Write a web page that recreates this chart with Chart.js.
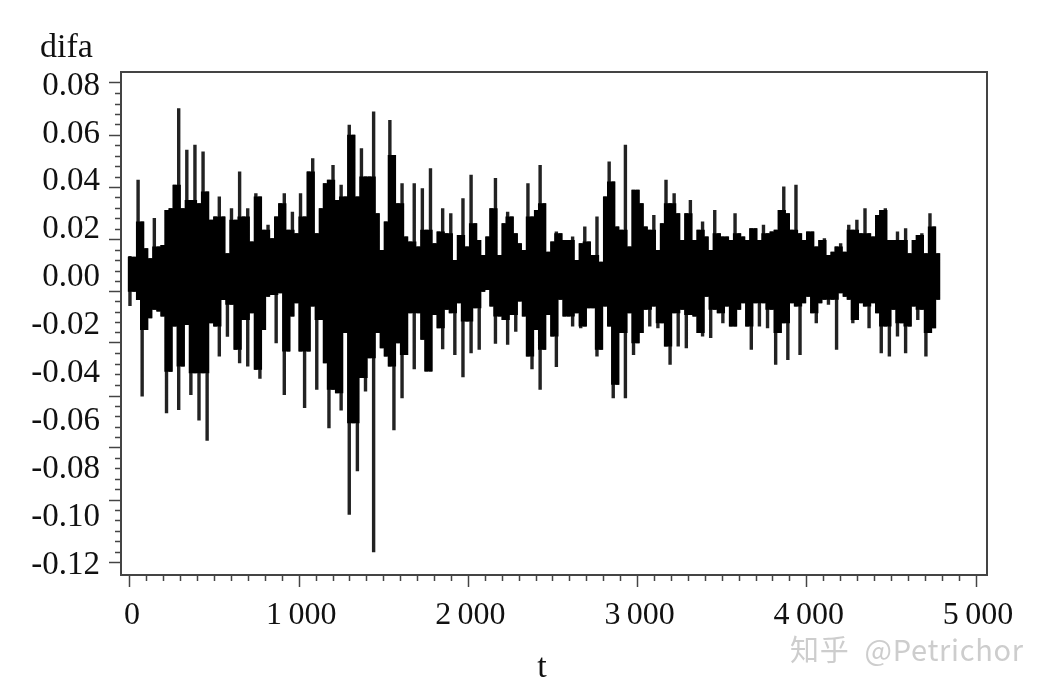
<!DOCTYPE html>
<html lang="zh">
<head>
    <meta charset="UTF-8">
    <title>difa</title>
    <script src="https://cdn.jsdelivr.net/npm/chart.js"></script>
    <style>
        body { margin: 0; background: #fff; }
        #wrap { position: relative; width: 1050px; height: 692px; overflow: hidden; }
        #mark {
            position: absolute; left: 790px; top: 627px;
            font: 29px "Noto Sans CJK SC", "Noto Sans", sans-serif;
            letter-spacing: 0.7px; word-spacing: 8px; color: #cdcdcd; white-space: nowrap;
        }
    </style>
</head>
<body>
<div id="wrap">
    <canvas id="difaChart" width="1050" height="692"></canvas>
    <div id="mark">知乎 @Petrichor</div>
</div>
<script>
    // one spike column every 24 t, upper and lower ends
    const tValues = [
        0, 24, 48, 72, 96, 120, 144, 168, 192, 216, 240, 264, 288, 312, 336, 360, 384, 408, 432, 456,
        480, 504, 528, 552, 576, 600, 624, 648, 672, 696, 720, 744, 768, 792, 816, 840, 864, 888, 912, 936,
        960, 984, 1008, 1032, 1056, 1080, 1104, 1128, 1152, 1176, 1200, 1224, 1248, 1272, 1296, 1320, 1344, 1368, 1392, 1416,
        1440, 1464, 1488, 1512, 1536, 1560, 1584, 1608, 1632, 1656, 1680, 1704, 1728, 1752, 1776, 1800, 1824, 1848, 1872, 1896,
        1920, 1944, 1968, 1992, 2016, 2040, 2064, 2088, 2112, 2136, 2160, 2184, 2208, 2232, 2256, 2280, 2304, 2328, 2352, 2376,
        2400, 2424, 2448, 2472, 2496, 2520, 2544, 2568, 2592, 2616, 2640, 2664, 2688, 2712, 2736, 2760, 2784, 2808, 2832, 2856,
        2880, 2904, 2928, 2952, 2976, 3000, 3024, 3048, 3072, 3096, 3120, 3144, 3168, 3192, 3216, 3240, 3264, 3288, 3312, 3336,
        3360, 3384, 3408, 3432, 3456, 3480, 3504, 3528, 3552, 3576, 3600, 3624, 3648, 3672, 3696, 3720, 3744, 3768, 3792, 3816,
        3840, 3864, 3888, 3912, 3936, 3960, 3984, 4008, 4032, 4056, 4080, 4104, 4128, 4152, 4176, 4200, 4224, 4248, 4272, 4296,
        4320, 4344, 4368, 4392, 4416, 4440, 4464, 4488, 4512, 4536, 4560, 4584, 4608, 4632, 4656, 4680, 4704, 4728, 4752, 4776
    ];
    const difaHigh = [
        .0082, .0079, .0400, .0226, .0114, .0072, .0240, .0121, .0128, .0274, .0281, .0379, .0699, .0281, .0525, .0316, .0546, .0302, .0518, .0351,
        .0233, .0247, .0330, .0247, .0093, .0281, .0233, .0435, .0247, .0281, .0142, .0344, .0330, .0191, .0212, .0156, .0247, .0302, .0344, .0191,
        .0267, .0177, .0344, .0247, .0435, .0490, .0177, .0281, .0386, .0400, .0462, .0316, .0379, .0330, .0630, .0588, .0330, .0532, .0414, .0414,
        .0685, .0260, .0107, .0226, .0650, .0504, .0302, .0386, .0163, .0142, .0386, .0121, .0365, .0191, .0448, .0135, .0184, .0281, .0177, .0260,
        .0065, .0170, .0323, .0121, .0421, .0219, .0149, .0086, .0163, .0281, .0407, .0086, .0219, .0267, .0247, .0177, .0135, .0107, .0386, .0247,
        .0274, .0462, .0302, .0100, .0142, .0184, .0177, .0149, .0149, .0163, .0065, .0135, .0205, .0142, .0086, .0247, .0058, .0330, .0476, .0393,
        .0205, .0191, .0546, .0121, .0358, .0358, .0302, .0205, .0191, .0253, .0107, .0219, .0400, .0302, .0344, .0260, .0149, .0260, .0316, .0149,
        .0191, .0226, .0163, .0107, .0274, .0177, .0163, .0163, .0149, .0260, .0177, .0163, .0149, .0198, .0198, .0149, .0212, .0177, .0184, .0191,
        .0274, .0372, .0260, .0191, .0379, .0177, .0149, .0184, .0184, .0121, .0149, .0156, .0086, .0100, .0121, .0135, .0100, .0212, .0191, .0233,
        .0177, .0281, .0177, .0163, .0253, .0274, .0281, .0149, .0149, .0184, .0149, .0198, .0093, .0149, .0170, .0177, .0093, .0260, .0205, .0093
    ];
    const difaLow = [
        -.0127, -.0067, -.0102, -.0505, -.0227, -.0178, -.0143, -.0150, -.0171, -.0575, -.0401, -.0213, -.0561, -.0380, -.0206, -.0498, -.0408, -.0605, -.0408, -.0689,
        -.0199, -.0213, -.0338, -.0102, -.0255, -.0122, -.0310, -.0366, -.0185, -.0380, -.0157, -.0393, -.0431, -.0227, -.0088, -.0081, -.0282, -.0074, -.0498, -.0317,
        -.0171, -.0115, -.0317, -.0553, -.0317, -.0129, -.0477, -.0185, -.0366, -.0637, -.0477, -.0491, -.0563, -.0240, -.0998, -.0616, -.0817, -.0428, -.0484, -.0345,
        -.1155, -.0240, -.0303, -.0338, -.0380, -.0646, -.0282, -.0512, -.0331, -.0157, -.0391, -.0157, -.0268, -.0400, -.0400, -.0164, -.0220, -.0307, -.0143, -.0157,
        -.0331, -.0115, -.0424, -.0192, -.0324, -.0136, -.0310, -.0067, -.0060, -.0129, -.0285, -.0171, -.0185, -.0289, -.0164, -.0234, -.0108, -.0171, -.0338, -.0391,
        -.0227, -.0477, -.0310, -.0164, -.0254, -.0382, -.0101, -.0171, -.0171, -.0213, -.0157, -.0220, -.0213, -.0136, -.0136, -.0338, -.0310, -.0129, -.0213, -.0512,
        -.0456, -.0240, -.0512, -.0157, -.0331, -.0282, -.0240, -.0143, -.0213, -.0129, -.0220, -.0199, -.0296, -.0372, -.0157, -.0296, -.0143, -.0303, -.0164, -.0171,
        -.0240, -.0254, -.0088, -.0261, -.0143, -.0157, -.0199, -.0129, -.0213, -.0213, -.0143, -.0115, -.0213, -.0310, -.0115, -.0213, -.0115, -.0220, -.0143, -.0372,
        -.0240, -.0199, -.0352, -.0115, -.0129, -.0331, -.0115, -.0088, -.0157, -.0199, -.0115, -.0101, -.0122, -.0101, -.0310, -.0074, -.0088, -.0101, -.0199, -.0185,
        -.0115, -.0129, -.0220, -.0115, -.0157, -.0324, -.0213, -.0338, -.0143, -.0254, -.0199, -.0324, -.0213, -.0129, -.0185, -.0143, -.0338, -.0240, -.0220, -.0101
    ];

    const xLabelTicks = [0, 1000, 2000, 3000, 4000, 5000];
    const yLabelTicks = [0.08, 0.06, 0.04, 0.02, 0, -0.02, -0.04, -0.06, -0.08, -0.10, -0.12];
    // the printed tick marks do not line up with the printed labels, so they get their own list
    const yMajorMarks = [.0806, .0585, .0368, .0149, -.0067, -.0281, -.0503, -.0719, -.0937, -.1199];
    const yMinorMarks = [
        .0762, .0716, .0671, .0629, .0542, .0498, .0455, .0411, .0324, .0280, .0237, .0193,
        .0106, .0063, .0019, -.0024, -.0110, -.0153, -.0195, -.0238, -.0325, -.0370, -.0414, -.0459,
        -.0546, -.0589, -.0633, -.0676, -.0763, -.0806, -.0850, -.0893,
        -.0981, -.1024, -.1068, -.1112, -.1155
    ];

    const serif = '"Liberation Serif", "Times New Roman", serif';

    // every column is its own vertical stroke, null breaks the path between them.
    // the part of a column that sticks out past both neighbours is the thin spike,
    // the rest goes in the solid body
    const spikePoints = [];
    const bodyPoints = [];
    tValues.forEach((t, i) => {
        const hiNear = Math.max(difaHigh[i - 1] ?? 0, difaHigh[i + 1] ?? 0);
        const loNear = Math.min(difaLow[i - 1] ?? 0, difaLow[i + 1] ?? 0);
        spikePoints.push({ x: t, y: difaHigh[i] }, { x: t, y: difaLow[i] }, { x: t, y: null });
        bodyPoints.push({ x: t, y: Math.min(difaHigh[i], hiNear) }, { x: t, y: Math.max(difaLow[i], loNear) }, { x: t, y: null });
    });

    const xMarks = [];
    for (let t = 0; t <= 5000; t += 100) {
        xMarks.push({ value: t, major: xLabelTicks.includes(t) });
    }
    const yMarks = yMajorMarks.map(v => ({ value: v, major: true }))
        .concat(yMinorMarks.map(v => ({ value: v, major: false })))
        .sort((a, b) => a.value - b.value);

    // frame on all four sides of the plot, plus the two axis names
    const framePlugin = {
        id: 'frame',
        afterDraw(chart) {
            const { ctx, chartArea: a, scales } = chart;
            ctx.save();
            ctx.strokeStyle = '#444';
            ctx.lineWidth = 2;
            ctx.strokeRect(a.left, a.top, a.right - a.left, a.bottom - a.top);
            ctx.fillStyle = '#111';
            ctx.font = '34px ' + serif;
            ctx.textBaseline = 'middle';
            ctx.fillText('difa', 40, 48);
            ctx.textAlign = 'center';
            ctx.fillText('t', scales.x.getPixelForValue(2435), 668);
            ctx.restore();
        }
    };

    new Chart(document.getElementById('difaChart'), {
        type: 'line',
        data: {
            datasets: [
                { data: bodyPoints, borderColor: '#000', borderWidth: 4.3, pointRadius: 0, tension: 0 },
                { data: spikePoints, borderColor: '#222', borderWidth: 3.4, pointRadius: 0, tension: 0 }
            ]
        },
        options: {
            responsive: false,
            animation: false,
            layout: { padding: { left: 30, right: 63, top: 72, bottom: 0 } },
            plugins: {
                legend: { display: false },
                tooltip: { enabled: false }
            },
            scales: {
                x: {
                    type: 'linear',
                    min: -53,
                    max: 5065,
                    afterBuildTicks(scale) { scale.ticks = xMarks; },
                    afterFit(scale) { scale.height = 117; },
                    border: { display: false },
                    grid: {
                        drawOnChartArea: false,
                        tickLength: 12,
                        tickColor: '#444',
                        tickWidth: 1.5,
                        tickBorderDash: ctx => ctx.tick && ctx.tick.major ? [] : [6, 6]
                    },
                    ticks: {
                        autoSkip: false,
                        maxRotation: 0,
                        padding: 9,
                        labelOffset: 2,
                        color: '#111',
                        font: { family: serif, size: 32 },
                        callback: v => xLabelTicks.includes(v) ? String(v).replace(/(\d)(\d{3})$/, '$1\u2009$2') : ''
                    }
                },
                // tick marks only, sits right against the plot
                yMarks: {
                    type: 'linear',
                    axis: 'y',
                    position: 'left',
                    weight: 0,
                    min: -0.125,
                    max: 0.085,
                    afterBuildTicks(scale) { scale.ticks = yMarks; },
                    border: { display: false },
                    grid: {
                        drawOnChartArea: false,
                        tickLength: 12,
                        tickColor: '#444',
                        tickWidth: 1.5,
                        tickBorderDash: ctx => ctx.tick && ctx.tick.major ? [] : [6, 6],
                        tickBorderDashOffset: ctx => ctx.tick && ctx.tick.major ? 0 : 6
                    },
                    ticks: { display: false, autoSkip: false }
                },
                // labels only, outside the marks
                y: {
                    type: 'linear',
                    position: 'left',
                    weight: 1,
                    min: -0.125,
                    max: 0.085,
                    afterBuildTicks(scale) { scale.ticks = yLabelTicks.map(v => ({ value: v })); },
                    afterFit(scale) { scale.width = 79; },
                    border: { display: false },
                    grid: { display: false, drawTicks: false },
                    ticks: {
                        autoSkip: false,
                        padding: 9,
                        labelOffset: 2,
                        color: '#111',
                        font: { family: serif, size: 33 },
                        callback: v => v.toFixed(2)
                    }
                }
            }
        },
        plugins: [framePlugin]
    });
</script>
</body>
</html>
